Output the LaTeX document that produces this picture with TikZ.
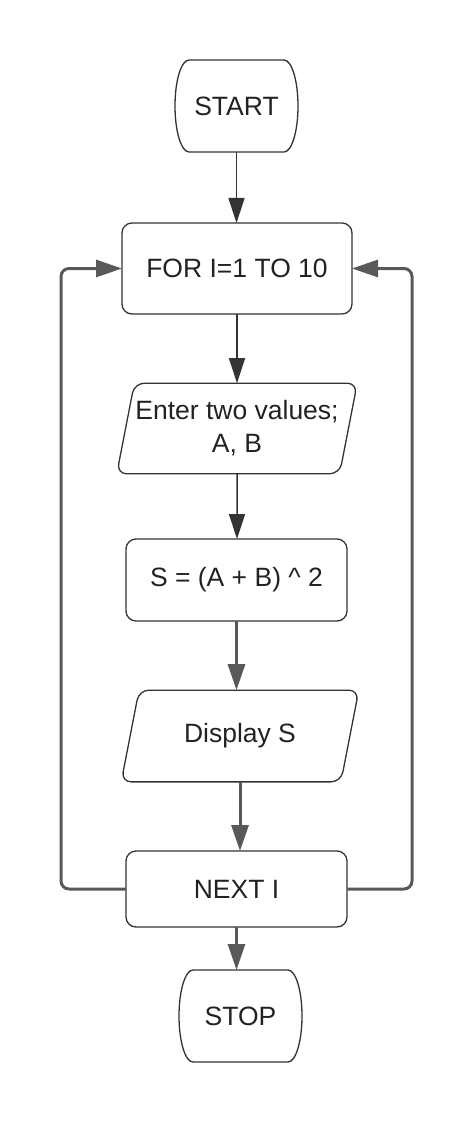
\documentclass[tikz,border=0pt]{standalone}
\usepackage{fontspec}
\setmainfont{Liberation Sans}
\usetikzlibrary{shapes.geometric,arrows.meta}
\definecolor{edge}{HTML}{333333}
\definecolor{flow}{HTML}{595959}
\definecolor{ink}{HTML}{222222}

\begin{document}
\begin{tikzpicture}[x=1pt,y=1pt,
    txt/.style={text=ink,font=\fontsize{26.5}{33}\selectfont,align=center,inner sep=0pt,outer sep=0pt},
    proc/.style={txt,draw=edge,line width=1.3pt,rounded corners=10pt},
    io/.style={proc,trapezium,trapezium left angle=79,trapezium right angle=101},
    term/.style={txt,minimum width=123pt,minimum height=92pt},
    light/.style={draw=edge,line width=1.5pt,-{Triangle[length=25pt,width=16pt]}},
    heavy/.style={draw=flow,line width=3pt,-{Triangle[length=26pt,width=17pt]}},
    back/.style={heavy,rounded corners=8pt}]
    \useasboundingbox (0,0) rectangle (474,-1123);
    \draw (236.5,-106) node[term] (start) {START};
    \draw (237,-268.5) node[proc,minimum width=230pt,minimum height=91pt] (for) {FOR I=1 TO 10};
    \draw (237,-428.5) node[io,inner xsep=1pt,inner ysep=17.5pt] (enter) {Enter two values;\\A, B};
    \draw (236.5,-580) node[proc,minimum width=221pt,minimum height=82pt] (calc) {S = (A + B) \textasciicircum{} 2};
    \draw (240,-736) node[io,inner xsep=45pt,inner ysep=33.5pt] (disp) {Display S};
    \draw (236.5,-889) node[proc,minimum width=221pt,minimum height=76pt] (next) {NEXT I};
    \draw (240.5,-1016) node[term] (stop) {STOP};
    % terminal outlines with elliptic sides
    \foreach \n in {start,stop}
      \draw[edge,line width=1.3pt] ([xshift=14pt]\n.north west) -- ([xshift=-14pt]\n.north east)
        arc[start angle=90,end angle=-90,x radius=14pt,y radius=46pt]
        -- ([xshift=14pt]\n.south west)
        arc[start angle=270,end angle=90,x radius=14pt,y radius=46pt] -- cycle;
    \draw[light] (start) -- (start |- for.north);
    \draw[light] (for) -- (for |- enter.north);
    \draw[light] (enter) -- (enter |- calc.north);
    \draw[heavy] (calc) -- (calc |- disp.north);
    \draw[heavy] (disp) -- (disp |- next.north);
    \draw[heavy] (next) -- (next |- stop.north);
    \draw[back] (next.west) -- ++(-65,0) |- (for.west);
    \draw[back] (next.east) -- ++(65,0) |- (for.east);
  \end{tikzpicture}
\end{document}
